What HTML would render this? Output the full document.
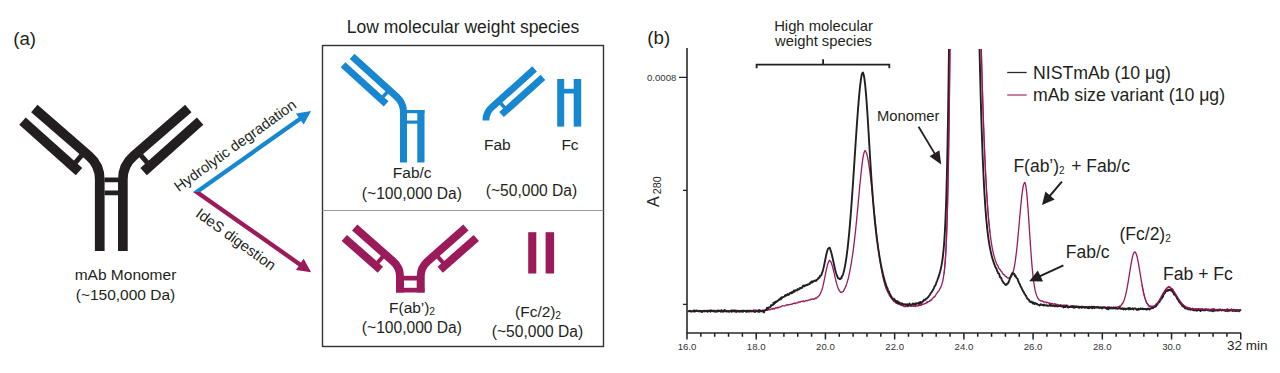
<!DOCTYPE html>
<html><head><meta charset="utf-8">
<style>
html,body{margin:0;padding:0;background:#fff;width:1280px;height:373px;overflow:hidden}
svg{position:absolute;left:0;top:0;display:block}
text{font-family:"Liberation Sans",sans-serif;fill:#231f20}
</style></head><body>
<svg width="1280" height="373" viewBox="0 0 1280 373">
<rect width="1280" height="373" fill="#fff"/>
<g stroke-linecap="butt">
<!-- (a) -->
<text x="13.2" y="44.5" font-size="18.7">(a)</text>
<path d="M34.30,108.50 L89.18,156.21 Q99.75,165.39 99.75,179.39 L99.75,251.00" stroke="#231f20" stroke-width="9.7" fill="none"/><path d="M22.49,121.02 L78.99,171.54" stroke="#231f20" stroke-width="9.7" fill="none"/><path d="M81.63,155.41 L75.44,162.53" stroke="#231f20" stroke-width="5" fill="none"/><path d="M188.30,108.50 L133.42,156.21 Q122.85,165.39 122.85,179.39 L122.85,251.00" stroke="#231f20" stroke-width="9.7" fill="none"/><path d="M200.11,121.02 L143.61,171.54" stroke="#231f20" stroke-width="9.7" fill="none"/><path d="M140.97,155.41 L147.16,162.53" stroke="#231f20" stroke-width="5" fill="none"/><path d="M104.5,179.9 L118.1,179.9 M104.5,192.9 L118.1,192.9" stroke="#231f20" stroke-width="4.7" fill="none"/>
<text x="125.5" y="280" font-size="15.5" text-anchor="middle">mAb Monomer</text>
<text x="125.5" y="299.5" font-size="15.5" text-anchor="middle">(~150,000 Da)</text>

<!-- arrows -->
<path d="M192.96,191.90 L299.39,266.70 L301.86,263.18 L200.44,191.90 Z" fill="#9a1a5a"/><path d="M311.1,272.3 L295.93,269.89 L303.69,258.84 Z" fill="#9a1a5a"/><path d="M192.97,191.90 L299.40,116.73 L301.89,120.24 L200.43,191.90 Z" fill="#1787cf"/><path d="M311.1,111.1 L303.72,124.57 L295.93,113.55 Z" fill="#1787cf"/>
<text x="0" y="0" font-size="14.7" transform="translate(178.7,192.2) rotate(-35.7)">Hydrolytic degradation</text>
<text x="0" y="0" font-size="14.9" transform="translate(194.8,215.7) rotate(36)">IdeS digestion</text>

<!-- box -->
<text x="463" y="33" font-size="17.5" text-anchor="middle">Low molecular weight species</text>
<rect x="322.5" y="45.5" width="281" height="301" fill="none" stroke="#333" stroke-width="1.4"/>
<line x1="322.5" y1="210.5" x2="603.5" y2="210.5" stroke="#999" stroke-width="1"/>
<path d="M352.10,56.40 L396.83,96.96 Q403.50,103.01 403.50,112.01 L403.50,162.50" stroke="#1787cf" stroke-width="7" fill="none"/><path d="M343.02,64.77 L386.14,103.87" stroke="#1787cf" stroke-width="7" fill="none"/><path d="M387.13,92.21 L382.89,96.88" stroke="#1787cf" stroke-width="3.5" fill="none"/><rect x="406" y="110" width="18.5" height="3.2" fill="#1787cf"/><rect x="406" y="120.5" width="12" height="3.2" fill="#1787cf"/><rect x="417.3" y="110" width="7.2" height="52.5" fill="#1787cf"/><path d="M534.60,68.90 L491.58,107.50 Q486.00,112.51 486.00,120.01 L486.00,120.40" stroke="#1787cf" stroke-width="6.9" fill="none"/><path d="M542.92,77.42 L501.54,114.55" stroke="#1787cf" stroke-width="6.9" fill="none"/><path d="M500.69,103.29 L504.70,107.75" stroke="#1787cf" stroke-width="3.5" fill="none"/><rect x="557.2" y="79" width="7" height="47.6" fill="#1787cf"/><rect x="573.7" y="79" width="7.5" height="47.6" fill="#1787cf"/><rect x="564" y="88.8" width="10" height="4.7" fill="#1787cf"/><path d="M354.70,227.50 L393.25,261.49 Q400.00,267.44 400.00,276.44 L400.00,292.50" stroke="#9a1a5a" stroke-width="8" fill="none"/><path d="M344.30,237.93 L380.38,269.74" stroke="#9a1a5a" stroke-width="8" fill="none"/><path d="M382.69,256.84 L377.60,262.62" stroke="#9a1a5a" stroke-width="4" fill="none"/><path d="M465.90,227.50 L427.45,261.40 Q420.70,267.35 420.70,276.35 L420.70,292.50" stroke="#9a1a5a" stroke-width="8" fill="none"/><path d="M476.30,237.93 L440.22,269.74" stroke="#9a1a5a" stroke-width="8" fill="none"/><path d="M437.91,256.84 L443.00,262.62" stroke="#9a1a5a" stroke-width="4" fill="none"/><rect x="403" y="275.8" width="14.5" height="4.7" fill="#9a1a5a"/><rect x="396" y="287.8" width="28.5" height="4.7" fill="#9a1a5a"/><rect x="528.2" y="232.2" width="8.1" height="41.3" fill="#9a1a5a"/><rect x="545.6" y="232.2" width="8.5" height="41.3" fill="#9a1a5a"/>
<text x="412.2" y="178.1" font-size="15.5" text-anchor="middle">Fab/c</text>
<text x="411.9" y="198.6" font-size="15.6" text-anchor="middle">(~100,000 Da)</text>
<text x="497.4" y="149.9" font-size="15.5" text-anchor="middle">Fab</text>
<text x="570" y="149.9" font-size="15.5" text-anchor="middle">Fc</text>
<text x="531.5" y="196.1" font-size="15.6" text-anchor="middle">(~50,000 Da)</text>
<text x="389" y="313" font-size="15.5">F(ab’)<tspan font-size="10.3" dy="1.5" dx="-0.2">2</tspan></text>
<text x="411.9" y="332.9" font-size="15.6" text-anchor="middle">(~100,000 Da)</text>
<text x="515" y="317.3" font-size="15.5">(Fc/2)<tspan font-size="10.3" dy="1.5" dx="-0.2">2</tspan></text>
<text x="537.5" y="336.9" font-size="15.6" text-anchor="middle">(~50,000 Da)</text>

<!-- (b) chart -->
<text x="647.3" y="44.3" font-size="18.7">(b)</text>
<text x="823.5" y="30.5" font-size="14.8" text-anchor="middle">High molecular</text>
<text x="823.5" y="45.5" font-size="14.8" text-anchor="middle">weight species</text>
<path d="M756.6,68.2 L756.6,64.7 L889.3,64.7 L889.3,68.2 M823.1,64.7 L823.1,59.3" stroke="#231f20" stroke-width="1.8" fill="none"/>
<text x="647" y="81" font-size="9.6" style="fill:#333">0.0008</text>
<text transform="translate(659,207) rotate(-90)" font-size="16">A<tspan font-size="10.8" dx="2.2" dy="1.7">280</tspan></text>
<path d="M687,48 L687,333 L1241,333" stroke="#2a2a2a" stroke-width="1.6" fill="none"/>
<path d="M679,77.3 L687,77.3 M683,190.4 L687,190.4 M683,304.3 L687,304.3" stroke="#231f20" stroke-width="1.3" fill="none"/>
<path d="M687.00,333 L687.00,339.5 M700.84,333 L700.84,336.8 M714.69,333 L714.69,336.8 M728.53,333 L728.53,336.8 M742.38,333 L742.38,336.8 M756.22,333 L756.22,339.5 M770.06,333 L770.06,336.8 M783.91,333 L783.91,336.8 M797.75,333 L797.75,336.8 M811.60,333 L811.60,336.8 M825.44,333 L825.44,339.5 M839.28,333 L839.28,336.8 M853.13,333 L853.13,336.8 M866.97,333 L866.97,336.8 M880.82,333 L880.82,336.8 M894.66,333 L894.66,339.5 M908.50,333 L908.50,336.8 M922.35,333 L922.35,336.8 M936.19,333 L936.19,336.8 M950.04,333 L950.04,336.8 M963.88,333 L963.88,339.5 M977.72,333 L977.72,336.8 M991.57,333 L991.57,336.8 M1005.41,333 L1005.41,336.8 M1019.26,333 L1019.26,336.8 M1033.10,333 L1033.10,339.5 M1046.94,333 L1046.94,336.8 M1060.79,333 L1060.79,336.8 M1074.63,333 L1074.63,336.8 M1088.48,333 L1088.48,336.8 M1102.32,333 L1102.32,339.5 M1116.16,333 L1116.16,336.8 M1130.01,333 L1130.01,336.8 M1143.85,333 L1143.85,336.8 M1157.70,333 L1157.70,336.8 M1171.54,333 L1171.54,339.5 M1185.38,333 L1185.38,336.8 M1199.23,333 L1199.23,336.8 M1213.07,333 L1213.07,336.8 M1226.92,333 L1226.92,336.8 M1240.76,333 L1240.76,339.5" stroke="#231f20" stroke-width="1.5" fill="none"/>
<text x="687.0" y="349.8" font-size="9.6" text-anchor="middle" style="fill:#333">16.0</text><text x="756.2" y="349.8" font-size="9.6" text-anchor="middle" style="fill:#333">18.0</text><text x="825.4" y="349.8" font-size="9.6" text-anchor="middle" style="fill:#333">20.0</text><text x="894.7" y="349.8" font-size="9.6" text-anchor="middle" style="fill:#333">22.0</text><text x="963.9" y="349.8" font-size="9.6" text-anchor="middle" style="fill:#333">24.0</text><text x="1033.1" y="349.8" font-size="9.6" text-anchor="middle" style="fill:#333">26.0</text><text x="1102.3" y="349.8" font-size="9.6" text-anchor="middle" style="fill:#333">28.0</text><text x="1171.5" y="349.8" font-size="9.6" text-anchor="middle" style="fill:#333">30.0</text>
<text x="1227" y="349.8" font-size="13.5">32 min</text>

<path d="M688.00,311.28 L688.50,311.49 L689.00,311.34 L689.50,311.36 L690.00,311.19 L690.50,311.60 L691.00,311.07 L691.50,311.02 L692.00,311.44 L692.50,311.19 L693.00,311.09 L693.50,310.99 L694.00,311.08 L694.50,311.34 L695.00,311.26 L695.50,310.78 L696.00,311.27 L696.50,311.19 L697.00,310.83 L697.50,311.36 L698.00,311.04 L698.50,311.01 L699.00,311.35 L699.50,311.50 L700.00,310.89 L700.50,311.23 L701.00,310.83 L701.50,311.78 L702.00,310.93 L702.50,311.44 L703.00,310.88 L703.50,311.31 L704.00,311.73 L704.50,310.29 L705.00,310.92 L705.50,311.20 L706.00,311.01 L706.50,310.84 L707.00,311.68 L707.50,311.05 L708.00,310.53 L708.50,311.27 L709.00,310.50 L709.50,311.35 L710.00,310.83 L710.50,311.04 L711.00,311.37 L711.50,311.02 L712.00,310.57 L712.50,310.47 L713.00,311.33 L713.50,311.19 L714.00,310.72 L714.50,311.22 L715.00,311.10 L715.50,311.14 L716.00,310.27 L716.50,310.85 L717.00,311.21 L717.50,311.15 L718.00,311.19 L718.50,310.18 L719.00,310.97 L719.50,311.06 L720.00,311.67 L720.50,310.62 L721.00,310.80 L721.50,310.90 L722.00,311.15 L722.50,310.75 L723.00,311.22 L723.50,310.64 L724.00,310.95 L724.50,310.70 L725.00,310.91 L725.50,310.65 L726.00,310.37 L726.50,311.17 L727.00,310.93 L727.50,310.67 L728.00,310.89 L728.50,311.12 L729.00,310.53 L729.50,310.78 L730.00,310.97 L730.50,310.96 L731.00,310.70 L731.50,310.16 L732.00,311.16 L732.50,310.88 L733.00,310.78 L733.50,310.69 L734.00,310.85 L734.50,310.64 L735.00,310.45 L735.50,310.53 L736.00,310.57 L736.50,310.56 L737.00,310.39 L737.50,310.93 L738.00,310.34 L738.50,310.93 L739.00,310.42 L739.50,310.82 L740.00,311.12 L740.50,310.77 L741.00,310.48 L741.50,310.71 L742.00,310.74 L742.50,310.17 L743.00,310.50 L743.50,310.73 L744.00,310.53 L744.50,310.69 L745.00,310.88 L745.50,310.89 L746.00,310.93 L746.50,310.83 L747.00,310.56 L747.50,310.63 L748.00,310.55 L748.50,310.54 L749.00,310.57 L749.50,310.10 L750.00,310.52 L750.50,310.60 L751.00,310.31 L751.50,310.59 L752.00,310.75 L752.50,310.54 L753.00,311.21 L753.50,309.80 L754.00,310.51 L754.50,310.02 L755.00,310.86 L755.50,311.36 L756.00,309.81 L756.50,310.59 L757.00,310.70 L757.50,310.45 L758.00,310.70 L758.50,309.86 L759.00,310.78 L759.50,310.64 L760.00,310.53 L760.50,310.34 L761.00,310.70 L761.50,310.36 L762.00,310.57 L762.50,310.34 L763.00,309.82 L763.50,310.48 L764.00,310.54 L764.50,310.62 L765.00,310.05 L765.50,310.21 L766.00,310.31 L766.50,310.08 L767.00,310.31 L767.50,310.44 L768.00,309.48 L768.50,309.08 L769.00,309.82 L769.50,309.93 L770.00,309.65 L770.50,309.53 L771.00,309.01 L771.50,308.88 L772.00,309.27 L772.50,308.60 L773.00,308.20 L773.50,308.32 L774.00,309.24 L774.50,308.94 L775.00,308.03 L775.50,307.89 L776.00,308.05 L776.50,307.62 L777.00,308.11 L777.50,307.57 L778.00,307.14 L778.50,307.73 L779.00,307.03 L779.50,307.14 L780.00,306.95 L780.50,306.73 L781.00,306.79 L781.50,306.36 L782.00,305.89 L782.50,305.66 L783.00,305.81 L783.50,305.84 L784.00,305.93 L784.50,305.83 L785.00,305.85 L785.50,305.60 L786.00,305.20 L786.50,305.10 L787.00,304.55 L787.50,305.01 L788.00,305.08 L788.50,304.96 L789.00,304.64 L789.50,304.50 L790.00,304.71 L790.50,304.30 L791.00,304.39 L791.50,304.22 L792.00,303.98 L792.50,304.19 L793.00,303.50 L793.50,303.43 L794.00,303.17 L794.50,303.05 L795.00,303.63 L795.50,303.56 L796.00,302.92 L796.50,302.95 L797.00,303.01 L797.50,302.77 L798.00,302.77 L798.50,301.90 L799.00,301.96 L799.50,302.16 L800.00,302.33 L800.50,301.82 L801.00,301.42 L801.50,301.46 L802.00,301.26 L802.50,301.09 L803.00,301.69 L803.50,300.94 L804.00,301.03 L804.50,301.56 L805.00,301.16 L805.50,300.79 L806.00,300.40 L806.50,300.60 L807.00,300.85 L807.50,300.44 L808.00,300.52 L808.50,300.06 L809.00,300.08 L809.50,299.75 L810.00,299.83 L810.50,299.98 L811.00,299.05 L811.50,299.35 L812.00,299.33 L812.50,298.97 L813.00,298.93 L813.50,299.13 L814.00,299.37 L814.50,298.82 L815.00,298.57 L815.50,297.84 L816.00,298.69 L816.50,297.90 L817.00,297.60 L817.50,296.95 L818.00,296.88 L818.50,296.09 L819.00,295.86 L819.50,295.28 L820.00,294.31 L820.50,293.46 L821.00,292.02 L821.50,290.97 L822.00,289.47 L822.50,287.75 L823.00,285.82 L823.50,283.70 L824.00,281.41 L824.50,278.98 L825.00,276.47 L825.50,273.93 L826.00,271.43 L826.50,269.03 L827.00,266.82 L827.50,264.86 L828.00,263.23 L828.50,262.41 L829.00,260.97 L829.50,260.26 L830.00,260.82 L830.50,261.18 L831.00,261.97 L831.50,263.45 L832.00,264.92 L832.50,266.62 L833.00,268.52 L833.50,270.57 L834.00,272.71 L834.50,274.89 L835.00,277.07 L835.50,279.19 L836.00,281.23 L836.50,283.14 L837.00,284.91 L837.50,286.50 L838.00,287.90 L838.50,289.00 L839.00,290.21 L839.50,290.57 L840.00,291.49 L840.50,292.39 L841.00,292.41 L841.50,292.22 L842.00,292.20 L842.50,291.85 L843.00,291.45 L843.50,291.10 L844.00,290.13 L844.50,288.57 L845.00,288.28 L845.50,286.87 L846.00,285.85 L846.50,284.42 L847.00,282.86 L847.50,281.15 L848.00,279.30 L848.50,277.30 L849.00,275.15 L849.50,272.84 L850.00,270.37 L850.50,267.73 L851.00,264.92 L851.50,261.94 L852.00,258.76 L852.50,255.39 L853.00,251.82 L853.50,248.05 L854.00,244.06 L854.50,239.86 L855.00,235.45 L855.50,230.81 L856.00,225.98 L856.50,220.96 L857.00,215.79 L857.50,210.48 L858.00,205.09 L858.50,199.66 L859.00,194.24 L859.50,188.91 L860.00,183.72 L860.50,178.69 L861.00,173.81 L861.50,169.17 L862.00,164.86 L862.50,160.98 L863.00,157.60 L863.50,154.82 L864.00,152.71 L864.50,151.51 L865.00,150.50 L865.50,150.90 L866.00,152.39 L866.50,153.05 L867.00,154.78 L867.50,156.91 L868.00,159.43 L868.50,162.31 L869.00,165.53 L869.50,169.07 L870.00,172.90 L870.50,176.98 L871.00,181.28 L871.50,185.76 L872.00,190.40 L872.50,195.15 L873.00,199.98 L873.50,204.87 L874.00,209.76 L874.50,214.64 L875.00,219.48 L875.50,224.25 L876.00,228.92 L876.50,233.47 L877.00,237.90 L877.50,242.17 L878.00,246.28 L878.50,250.22 L879.00,253.97 L879.50,257.55 L880.00,260.93 L880.50,264.14 L881.00,267.16 L881.50,269.99 L882.00,272.64 L882.50,275.12 L883.00,277.43 L883.50,279.58 L884.00,281.58 L884.50,283.43 L885.00,285.15 L885.50,286.74 L886.00,288.21 L886.50,289.56 L887.00,290.50 L887.50,291.64 L888.00,292.62 L888.50,293.32 L889.00,294.39 L889.50,295.91 L890.00,296.39 L890.50,296.75 L891.00,297.54 L891.50,298.79 L892.00,298.95 L892.50,299.62 L893.00,300.33 L893.50,301.11 L894.00,301.72 L894.50,301.86 L895.00,301.97 L895.50,302.34 L896.00,303.16 L896.50,303.36 L897.00,303.14 L897.50,303.64 L898.00,303.85 L898.50,304.02 L899.00,304.09 L899.50,304.05 L900.00,304.49 L900.50,304.38 L901.00,305.39 L901.50,305.35 L902.00,304.99 L902.50,305.92 L903.00,305.91 L903.50,305.21 L904.00,306.46 L904.50,306.27 L905.00,306.76 L905.50,305.81 L906.00,306.37 L906.50,306.37 L907.00,306.33 L907.50,306.34 L908.00,306.62 L908.50,305.86 L909.00,305.94 L909.50,305.90 L910.00,306.14 L910.50,306.12 L911.00,306.40 L911.50,306.35 L912.00,306.26 L912.50,306.02 L913.00,306.06 L913.50,306.45 L914.00,306.35 L914.50,306.11 L915.00,305.93 L915.50,306.44 L916.00,305.74 L916.50,306.04 L917.00,306.12 L917.50,305.62 L918.00,305.87 L918.50,305.19 L919.00,305.74 L919.50,305.39 L920.00,304.74 L920.50,305.30 L921.00,304.70 L921.50,305.21 L922.00,304.48 L922.50,304.47 L923.00,304.44 L923.50,304.08 L924.00,304.06 L924.50,303.62 L925.00,303.77 L925.50,303.34 L926.00,303.17 L926.50,302.02 L927.00,302.93 L927.50,302.30 L928.00,301.46 L928.50,301.71 L929.00,301.49 L929.50,301.32 L930.00,300.31 L930.50,300.71 L931.00,299.79 L931.50,300.14 L932.00,298.93 L932.50,298.72 L933.00,297.92 L933.50,297.19 L934.00,297.33 L934.50,296.73 L935.00,296.35 L935.50,295.56 L936.00,294.52 L936.50,293.55 L937.00,293.19 L937.50,292.49 L938.00,291.73 L938.50,291.39 L939.00,290.52 L939.50,289.48 L940.00,288.70 L940.50,287.60 L941.00,286.58 L941.50,285.24 L942.00,283.74 L942.50,281.97 L943.00,279.80 L943.50,277.12 L944.00,273.76 L944.50,269.52 L945.00,264.12 L945.50,257.26 L946.00,248.56 L946.50,237.56 L947.00,223.76 L947.50,206.59 L948.00,185.40 L948.50,159.54 L949.00,128.30 L949.50,91.02 L949.98,48.90 M981.30,48.90 L981.50,56.75 L982.00,75.29 L982.50,92.51 L983.00,108.48 L983.50,123.24 L984.00,136.87 L984.50,149.41 L985.00,160.93 L985.50,171.49 L986.00,181.15 L986.50,189.97 L987.00,198.00 L987.50,205.31 L988.00,211.95 L988.50,217.97 L989.00,223.42 L989.50,228.35 L990.00,232.80 L990.50,236.82 L991.00,240.45 L991.50,243.72 L992.00,246.67 L992.50,249.33 L993.00,251.74 L993.50,253.91 L994.00,255.87 L994.50,257.65 L995.00,259.27 L995.50,260.74 L996.00,262.08 L996.50,263.54 L997.00,264.73 L997.50,265.29 L998.00,266.01 L998.50,267.79 L999.00,268.25 L999.50,269.34 L1000.00,269.27 L1000.50,270.38 L1001.00,271.16 L1001.50,271.37 L1002.00,272.28 L1002.50,273.25 L1003.00,273.93 L1003.50,274.65 L1004.00,274.45 L1004.50,274.80 L1005.00,275.87 L1005.50,276.46 L1006.00,276.67 L1006.50,276.62 L1007.00,277.60 L1007.50,277.91 L1008.00,278.08 L1008.50,277.93 L1009.00,278.23 L1009.50,278.34 L1010.00,277.75 L1010.50,277.04 L1011.00,277.17 L1011.50,276.49 L1012.00,275.39 L1012.50,274.14 L1013.00,272.61 L1013.50,270.74 L1014.00,268.51 L1014.50,265.90 L1015.00,262.90 L1015.50,259.49 L1016.00,255.68 L1016.50,251.46 L1017.00,246.88 L1017.50,241.95 L1018.00,236.74 L1018.50,231.30 L1019.00,225.70 L1019.50,220.04 L1020.00,214.41 L1020.50,208.92 L1021.00,203.67 L1021.50,198.79 L1022.00,194.38 L1022.50,190.54 L1023.00,187.38 L1023.50,184.96 L1024.00,183.64 L1024.50,182.47 L1025.00,182.81 L1025.50,184.25 L1026.00,186.97 L1026.50,190.90 L1027.00,195.91 L1027.50,201.84 L1028.00,208.50 L1028.50,215.70 L1029.00,223.24 L1029.50,230.90 L1030.00,238.51 L1030.50,245.91 L1031.00,252.95 L1031.50,259.53 L1032.00,265.58 L1032.50,271.05 L1033.00,275.91 L1033.50,280.17 L1034.00,283.85 L1034.50,286.99 L1035.00,289.64 L1035.50,291.84 L1036.00,293.66 L1036.50,295.14 L1037.00,296.26 L1037.50,297.50 L1038.00,298.59 L1038.50,298.67 L1039.00,299.88 L1039.50,300.15 L1040.00,300.28 L1040.50,300.53 L1041.00,301.15 L1041.50,300.80 L1042.00,301.04 L1042.50,300.95 L1043.00,301.59 L1043.50,302.02 L1044.00,301.94 L1044.50,302.07 L1045.00,302.03 L1045.50,302.29 L1046.00,301.95 L1046.50,302.83 L1047.00,302.53 L1047.50,302.45 L1048.00,302.68 L1048.50,302.78 L1049.00,303.40 L1049.50,303.58 L1050.00,302.97 L1050.50,303.77 L1051.00,303.86 L1051.50,303.53 L1052.00,303.35 L1052.50,303.68 L1053.00,303.80 L1053.50,304.19 L1054.00,304.07 L1054.50,303.66 L1055.00,304.42 L1055.50,303.98 L1056.00,304.79 L1056.50,304.23 L1057.00,304.46 L1057.50,304.49 L1058.00,304.65 L1058.50,305.28 L1059.00,305.21 L1059.50,305.20 L1060.00,305.18 L1060.50,304.68 L1061.00,305.05 L1061.50,305.10 L1062.00,305.03 L1062.50,305.53 L1063.00,305.21 L1063.50,305.27 L1064.00,305.22 L1064.50,304.96 L1065.00,305.81 L1065.50,306.07 L1066.00,305.77 L1066.50,305.47 L1067.00,304.99 L1067.50,305.90 L1068.00,306.25 L1068.50,306.01 L1069.00,306.24 L1069.50,306.44 L1070.00,306.37 L1070.50,305.93 L1071.00,306.42 L1071.50,306.37 L1072.00,305.70 L1072.50,306.07 L1073.00,305.80 L1073.50,306.22 L1074.00,306.45 L1074.50,305.99 L1075.00,305.72 L1075.50,306.75 L1076.00,306.50 L1076.50,306.85 L1077.00,306.04 L1077.50,306.77 L1078.00,307.10 L1078.50,307.10 L1079.00,306.46 L1079.50,306.62 L1080.00,306.52 L1080.50,306.88 L1081.00,306.91 L1081.50,306.65 L1082.00,306.23 L1082.50,306.88 L1083.00,306.53 L1083.50,306.88 L1084.00,306.79 L1084.50,307.21 L1085.00,307.08 L1085.50,306.62 L1086.00,306.88 L1086.50,307.32 L1087.00,306.64 L1087.50,306.95 L1088.00,307.19 L1088.50,307.22 L1089.00,307.02 L1089.50,306.48 L1090.00,306.51 L1090.50,306.97 L1091.00,307.03 L1091.50,307.69 L1092.00,306.68 L1092.50,307.29 L1093.00,307.19 L1093.50,306.47 L1094.00,306.74 L1094.50,307.05 L1095.00,306.86 L1095.50,306.98 L1096.00,307.17 L1096.50,306.80 L1097.00,307.20 L1097.50,306.88 L1098.00,306.91 L1098.50,307.25 L1099.00,306.93 L1099.50,307.20 L1100.00,307.60 L1100.50,307.14 L1101.00,307.10 L1101.50,307.37 L1102.00,307.05 L1102.50,307.50 L1103.00,306.80 L1103.50,307.38 L1104.00,307.05 L1104.50,306.97 L1105.00,307.75 L1105.50,306.98 L1106.00,307.77 L1106.50,307.45 L1107.00,307.69 L1107.50,306.98 L1108.00,307.64 L1108.50,307.72 L1109.00,307.26 L1109.50,307.27 L1110.00,308.05 L1110.50,307.38 L1111.00,307.21 L1111.50,307.15 L1112.00,307.48 L1112.50,307.45 L1113.00,307.41 L1113.50,307.88 L1114.00,307.27 L1114.50,307.50 L1115.00,307.79 L1115.50,307.04 L1116.00,307.63 L1116.50,307.84 L1117.00,306.84 L1117.50,306.85 L1118.00,306.78 L1118.50,306.42 L1119.00,306.95 L1119.50,306.05 L1120.00,306.50 L1120.50,306.46 L1121.00,305.12 L1121.50,305.00 L1122.00,303.89 L1122.50,303.95 L1123.00,302.58 L1123.50,301.65 L1124.00,300.48 L1124.50,299.03 L1125.00,297.36 L1125.50,295.48 L1126.00,293.38 L1126.50,291.06 L1127.00,288.53 L1127.50,285.81 L1128.00,282.91 L1128.50,279.88 L1129.00,276.75 L1129.50,273.57 L1130.00,270.39 L1130.50,267.28 L1131.00,264.30 L1131.50,261.52 L1132.00,258.99 L1132.50,256.77 L1133.00,254.93 L1133.50,253.52 L1134.00,252.70 L1134.50,251.94 L1135.00,252.05 L1135.50,252.36 L1136.00,253.47 L1136.50,254.79 L1137.00,256.53 L1137.50,258.63 L1138.00,261.04 L1138.50,263.70 L1139.00,266.55 L1139.50,269.55 L1140.00,272.62 L1140.50,275.71 L1141.00,278.78 L1141.50,281.78 L1142.00,284.67 L1142.50,287.40 L1143.00,289.97 L1143.50,292.35 L1144.00,294.53 L1144.50,296.49 L1145.00,298.25 L1145.50,299.81 L1146.00,301.16 L1146.50,301.98 L1147.00,303.35 L1147.50,303.60 L1148.00,304.72 L1148.50,306.01 L1149.00,305.91 L1149.50,305.85 L1150.00,306.56 L1150.50,306.36 L1151.00,306.25 L1151.50,306.56 L1152.00,306.97 L1152.50,306.78 L1153.00,306.50 L1153.50,306.06 L1154.00,305.77 L1154.50,306.20 L1155.00,305.53 L1155.50,304.78 L1156.00,303.98 L1156.50,303.71 L1157.00,304.31 L1157.50,302.63 L1158.00,302.30 L1158.50,301.68 L1159.00,300.82 L1159.50,300.00 L1160.00,298.84 L1160.50,298.07 L1161.00,298.00 L1161.50,296.36 L1162.00,295.91 L1162.50,294.23 L1163.00,293.74 L1163.50,293.00 L1164.00,292.37 L1164.50,290.89 L1165.00,290.63 L1165.50,289.86 L1166.00,288.88 L1166.50,288.69 L1167.00,287.81 L1167.50,287.47 L1168.00,287.44 L1168.50,286.48 L1169.00,287.22 L1169.50,287.01 L1170.00,287.02 L1170.50,287.57 L1171.00,288.25 L1171.50,288.30 L1172.00,289.29 L1172.50,289.12 L1173.00,289.70 L1173.50,291.24 L1174.00,291.62 L1174.50,292.56 L1175.00,292.84 L1175.50,294.16 L1176.00,294.85 L1176.50,295.82 L1177.00,296.50 L1177.50,297.70 L1178.00,297.99 L1178.50,298.72 L1179.00,299.37 L1179.50,300.93 L1180.00,301.10 L1180.50,301.71 L1181.00,302.41 L1181.50,303.19 L1182.00,303.53 L1182.50,304.37 L1183.00,304.77 L1183.50,305.26 L1184.00,305.56 L1184.50,306.24 L1185.00,306.45 L1185.50,306.93 L1186.00,307.26 L1186.50,307.54 L1187.00,307.00 L1187.50,307.70 L1188.00,307.80 L1188.50,308.42 L1189.00,307.85 L1189.50,308.23 L1190.00,308.46 L1190.50,308.54 L1191.00,309.01 L1191.50,308.65 L1192.00,309.13 L1192.50,308.45 L1193.00,308.40 L1193.50,309.34 L1194.00,309.14 L1194.50,309.19 L1195.00,309.10 L1195.50,309.24 L1196.00,308.75 L1196.50,309.42 L1197.00,308.99 L1197.50,309.46 L1198.00,309.21 L1198.50,308.60 L1199.00,308.82 L1199.50,309.56 L1200.00,309.19 L1200.50,309.13 L1201.00,309.33 L1201.50,309.14 L1202.00,309.12 L1202.50,309.33 L1203.00,309.35 L1203.50,309.77 L1204.00,309.34 L1204.50,309.90 L1205.00,309.89 L1205.50,309.88 L1206.00,309.69 L1206.50,309.43 L1207.00,309.44 L1207.50,309.37 L1208.00,309.20 L1208.50,309.41 L1209.00,309.25 L1209.50,309.95 L1210.00,309.62 L1210.50,309.34 L1211.00,308.91 L1211.50,309.48 L1212.00,309.38 L1212.50,309.19 L1213.00,309.19 L1213.50,308.87 L1214.00,309.72 L1214.50,309.55 L1215.00,310.35 L1215.50,309.58 L1216.00,309.55 L1216.50,310.04 L1217.00,309.66 L1217.50,309.68 L1218.00,309.53 L1218.50,309.47 L1219.00,310.12 L1219.50,309.98 L1220.00,310.20 L1220.50,309.59 L1221.00,309.72 L1221.50,309.46 L1222.00,310.02 L1222.50,309.33 L1223.00,309.92 L1223.50,310.09 L1224.00,310.20 L1224.50,309.51 L1225.00,310.13 L1225.50,309.60 L1226.00,309.59 L1226.50,309.44 L1227.00,310.19 L1227.50,310.35 L1228.00,309.69 L1228.50,309.65 L1229.00,309.79 L1229.50,310.65 L1230.00,310.21 L1230.50,309.76 L1231.00,309.39 L1231.50,309.74 L1232.00,310.31 L1232.50,310.53 L1233.00,309.90 L1233.50,309.78 L1234.00,309.85 L1234.50,309.45 L1235.00,310.30 L1235.50,309.71 L1236.00,310.36 L1236.50,309.54 L1237.00,309.69 L1237.50,310.16 L1238.00,309.86 L1238.50,310.34 L1239.00,310.11 L1239.50,309.77 L1240.00,310.32 L1240.50,310.40 L1241.00,309.58" stroke="#9a1a5a" stroke-width="1.3" fill="none" stroke-linejoin="round"/>
<path d="M688.00,310.99 L688.50,311.33 L689.00,311.00 L689.50,310.96 L690.00,310.69 L690.50,311.01 L691.00,311.61 L691.50,311.30 L692.00,311.58 L692.50,311.22 L693.00,311.29 L693.50,311.19 L694.00,310.36 L694.50,311.50 L695.00,311.34 L695.50,311.34 L696.00,310.35 L696.50,310.33 L697.00,310.72 L697.50,310.91 L698.00,311.26 L698.50,311.10 L699.00,311.35 L699.50,310.83 L700.00,311.26 L700.50,311.30 L701.00,310.82 L701.50,311.90 L702.00,311.37 L702.50,311.66 L703.00,310.85 L703.50,310.79 L704.00,310.97 L704.50,311.08 L705.00,311.41 L705.50,311.24 L706.00,310.93 L706.50,310.70 L707.00,310.90 L707.50,311.68 L708.00,310.77 L708.50,311.24 L709.00,311.33 L709.50,310.46 L710.00,311.16 L710.50,311.72 L711.00,310.23 L711.50,310.99 L712.00,311.09 L712.50,310.77 L713.00,311.36 L713.50,311.11 L714.00,310.48 L714.50,311.51 L715.00,311.44 L715.50,311.57 L716.00,311.79 L716.50,311.31 L717.00,311.20 L717.50,310.56 L718.00,311.42 L718.50,310.87 L719.00,310.94 L719.50,310.58 L720.00,310.71 L720.50,310.91 L721.00,311.73 L721.50,310.24 L722.00,310.50 L722.50,311.26 L723.00,311.80 L723.50,311.42 L724.00,310.30 L724.50,310.02 L725.00,311.32 L725.50,310.83 L726.00,310.65 L726.50,311.60 L727.00,311.66 L727.50,311.23 L728.00,311.27 L728.50,311.36 L729.00,311.88 L729.50,311.44 L730.00,311.40 L730.50,311.41 L731.00,310.46 L731.50,311.74 L732.00,311.60 L732.50,311.41 L733.00,310.28 L733.50,310.88 L734.00,311.55 L734.50,310.36 L735.00,311.09 L735.50,311.63 L736.00,310.58 L736.50,311.90 L737.00,311.42 L737.50,311.11 L738.00,311.32 L738.50,311.47 L739.00,311.23 L739.50,311.69 L740.00,310.88 L740.50,310.99 L741.00,311.65 L741.50,311.19 L742.00,310.79 L742.50,311.61 L743.00,311.84 L743.50,310.98 L744.00,310.56 L744.50,311.13 L745.00,311.12 L745.50,311.05 L746.00,311.82 L746.50,310.73 L747.00,311.76 L747.50,310.62 L748.00,310.84 L748.50,311.48 L749.00,311.70 L749.50,311.58 L750.00,311.35 L750.50,311.26 L751.00,311.26 L751.50,311.45 L752.00,311.12 L752.50,311.32 L753.00,311.46 L753.50,311.20 L754.00,311.54 L754.50,311.45 L755.00,312.11 L755.50,311.35 L756.00,311.01 L756.50,311.04 L757.00,311.20 L757.50,311.62 L758.00,311.05 L758.50,311.38 L759.00,312.03 L759.50,310.05 L760.00,310.70 L760.50,311.32 L761.00,311.39 L761.50,311.32 L762.00,311.02 L762.50,311.51 L763.00,311.34 L763.50,310.98 L764.00,312.31 L764.50,311.02 L765.00,310.26 L765.50,310.09 L766.00,309.66 L766.50,309.36 L767.00,307.78 L767.50,308.41 L768.00,308.71 L768.50,307.35 L769.00,307.47 L769.50,307.56 L770.00,307.14 L770.50,307.05 L771.00,305.23 L771.50,305.47 L772.00,305.09 L772.50,305.12 L773.00,304.91 L773.50,302.80 L774.00,304.09 L774.50,302.53 L775.00,303.08 L775.50,301.68 L776.00,302.02 L776.50,302.07 L777.00,301.05 L777.50,300.79 L778.00,300.65 L778.50,299.94 L779.00,299.42 L779.50,299.74 L780.00,299.11 L780.50,298.24 L781.00,299.35 L781.50,297.34 L782.00,298.01 L782.50,297.22 L783.00,297.14 L783.50,297.13 L784.00,296.66 L784.50,296.58 L785.00,295.35 L785.50,295.10 L786.00,295.79 L786.50,294.82 L787.00,294.54 L787.50,294.08 L788.00,295.05 L788.50,294.55 L789.00,294.62 L789.50,293.28 L790.00,293.44 L790.50,292.66 L791.00,293.26 L791.50,293.37 L792.00,292.00 L792.50,292.84 L793.00,292.32 L793.50,291.54 L794.00,290.47 L794.50,291.73 L795.00,290.79 L795.50,290.31 L796.00,290.50 L796.50,290.24 L797.00,290.47 L797.50,289.08 L798.00,289.79 L798.50,289.69 L799.00,289.41 L799.50,288.42 L800.00,287.90 L800.50,288.45 L801.00,287.79 L801.50,287.55 L802.00,287.88 L802.50,286.87 L803.00,285.71 L803.50,286.32 L804.00,285.41 L804.50,286.36 L805.00,285.89 L805.50,285.22 L806.00,285.24 L806.50,285.37 L807.00,284.78 L807.50,285.10 L808.00,284.22 L808.50,284.47 L809.00,284.42 L809.50,284.23 L810.00,282.95 L810.50,283.40 L811.00,281.91 L811.50,282.02 L812.00,281.37 L812.50,282.48 L813.00,281.20 L813.50,281.49 L814.00,281.16 L814.50,280.98 L815.00,280.46 L815.50,280.57 L816.00,280.99 L816.50,279.91 L817.00,279.81 L817.50,279.67 L818.00,278.74 L818.50,277.81 L819.00,277.59 L819.50,277.69 L820.00,275.71 L820.50,275.64 L821.00,275.63 L821.50,274.60 L822.00,273.07 L822.50,271.64 L823.00,269.95 L823.50,268.02 L824.00,265.85 L824.50,263.50 L825.00,261.03 L825.50,258.51 L826.00,256.05 L826.50,253.74 L827.00,251.69 L827.50,250.00 L828.00,248.76 L828.50,248.41 L829.00,247.97 L829.50,247.68 L830.00,248.21 L830.50,250.10 L831.00,251.60 L831.50,253.39 L832.00,255.40 L832.50,257.57 L833.00,259.86 L833.50,262.19 L834.00,264.50 L834.50,266.76 L835.00,268.90 L835.50,270.90 L836.00,272.72 L836.50,274.33 L837.00,275.73 L837.50,276.61 L838.00,278.26 L838.50,278.29 L839.00,278.61 L839.50,278.92 L840.00,278.59 L840.50,278.97 L841.00,278.02 L841.50,278.01 L842.00,275.85 L842.50,275.75 L843.00,274.35 L843.50,272.69 L844.00,270.78 L844.50,268.59 L845.00,266.12 L845.50,263.35 L846.00,260.27 L846.50,256.86 L847.00,253.13 L847.50,249.05 L848.00,244.63 L848.50,239.87 L849.00,234.76 L849.50,229.31 L850.00,223.52 L850.50,217.42 L851.00,211.03 L851.50,204.35 L852.00,197.43 L852.50,190.29 L853.00,182.96 L853.50,175.50 L854.00,167.93 L854.50,160.31 L855.00,152.69 L855.50,145.04 L856.00,137.49 L856.50,130.09 L857.00,122.90 L857.50,115.96 L858.00,109.34 L858.50,103.09 L859.00,97.25 L859.50,91.87 L860.00,86.99 L860.50,82.67 L861.00,78.93 L861.50,75.85 L862.00,73.77 L862.50,72.92 L863.00,72.58 L863.50,74.03 L864.00,76.21 L864.50,79.38 L865.00,83.47 L865.50,88.40 L866.00,94.10 L866.50,100.48 L867.00,107.46 L867.50,114.94 L868.00,122.82 L868.50,131.03 L869.00,139.48 L869.50,147.96 L870.00,156.27 L870.50,164.36 L871.00,172.18 L871.50,179.69 L872.00,186.86 L872.50,193.67 L873.00,200.12 L873.50,206.22 L874.00,211.95 L874.50,217.35 L875.00,222.42 L875.50,227.18 L876.00,231.66 L876.50,235.87 L877.00,239.83 L877.50,243.57 L878.00,247.11 L878.50,250.45 L879.00,253.63 L879.50,256.64 L880.00,259.51 L880.50,262.24 L881.00,264.85 L881.50,267.33 L882.00,269.70 L882.50,271.96 L883.00,274.11 L883.50,276.15 L884.00,278.09 L884.50,279.94 L885.00,281.68 L885.50,283.33 L886.00,284.89 L886.50,286.35 L887.00,287.73 L887.50,288.14 L888.00,290.55 L888.50,291.23 L889.00,291.40 L889.50,292.98 L890.00,294.41 L890.50,294.92 L891.00,296.25 L891.50,296.95 L892.00,297.58 L892.50,298.04 L893.00,299.05 L893.50,299.27 L894.00,299.65 L894.50,298.95 L895.00,300.70 L895.50,301.26 L896.00,300.88 L896.50,301.12 L897.00,302.50 L897.50,301.11 L898.00,302.37 L898.50,303.49 L899.00,302.21 L899.50,303.15 L900.00,303.89 L900.50,303.17 L901.00,303.66 L901.50,303.99 L902.00,303.34 L902.50,303.86 L903.00,304.19 L903.50,304.57 L904.00,304.33 L904.50,304.39 L905.00,304.16 L905.50,304.46 L906.00,305.02 L906.50,304.66 L907.00,304.22 L907.50,304.22 L908.00,305.78 L908.50,305.08 L909.00,304.83 L909.50,303.36 L910.00,304.77 L910.50,304.68 L911.00,305.19 L911.50,304.58 L912.00,304.32 L912.50,304.54 L913.00,303.37 L913.50,304.65 L914.00,304.27 L914.50,303.74 L915.00,304.57 L915.50,304.70 L916.00,303.17 L916.50,303.39 L917.00,303.71 L917.50,303.54 L918.00,303.15 L918.50,302.75 L919.00,303.99 L919.50,303.33 L920.00,302.14 L920.50,301.88 L921.00,303.04 L921.50,302.49 L922.00,302.62 L922.50,301.90 L923.00,300.86 L923.50,301.06 L924.00,299.65 L924.50,299.93 L925.00,299.87 L925.50,299.74 L926.00,298.75 L926.50,298.57 L927.00,298.36 L927.50,297.81 L928.00,297.39 L928.50,296.63 L929.00,295.79 L929.50,295.65 L930.00,294.65 L930.50,293.55 L931.00,292.90 L931.50,292.40 L932.00,291.53 L932.50,290.79 L933.00,289.82 L933.50,288.96 L934.00,287.84 L934.50,286.31 L935.00,286.00 L935.50,285.17 L936.00,283.73 L936.50,282.24 L937.00,281.07 L937.50,279.75 L938.00,278.37 L938.50,276.92 L939.00,275.38 L939.50,273.74 L940.00,271.96 L940.50,270.01 L941.00,267.85 L941.50,265.40 L942.00,262.59 L942.50,259.30 L943.00,255.39 L943.50,250.69 L944.00,244.97 L944.50,237.99 L945.00,229.41 L945.50,218.87 L946.00,205.92 L946.50,190.09 L947.00,170.82 L947.50,147.52 L948.00,119.56 L948.50,86.29 L948.98,48.90 M979.54,48.90 L980.00,68.72 L980.50,88.67 L981.00,106.86 L981.50,123.40 L982.00,138.41 L982.50,151.99 L983.00,164.24 L983.50,175.29 L984.00,185.22 L984.50,194.14 L985.00,202.14 L985.50,209.30 L986.00,215.72 L986.50,221.47 L987.00,226.61 L987.50,231.22 L988.00,235.35 L988.50,239.07 L989.00,242.41 L989.50,245.43 L990.00,248.16 L990.50,250.65 L991.00,252.91 L991.50,254.99 L992.00,256.91 L992.50,258.68 L993.00,260.33 L993.50,261.87 L994.00,263.32 L994.50,264.69 L995.00,266.00 L995.50,267.44 L996.00,267.99 L996.50,268.71 L997.00,270.69 L997.50,271.31 L998.00,273.09 L998.50,273.27 L999.00,273.55 L999.50,275.21 L1000.00,277.30 L1000.50,277.32 L1001.00,277.75 L1001.50,278.87 L1002.00,280.26 L1002.50,281.04 L1003.00,281.64 L1003.50,282.93 L1004.00,283.22 L1004.50,283.45 L1005.00,284.18 L1005.50,284.99 L1006.00,284.87 L1006.50,284.89 L1007.00,283.73 L1007.50,283.72 L1008.00,283.44 L1008.50,282.06 L1009.00,281.54 L1009.50,279.76 L1010.00,278.34 L1010.50,276.90 L1011.00,275.54 L1011.50,274.62 L1012.00,273.86 L1012.50,272.83 L1013.00,273.99 L1013.50,273.78 L1014.00,273.64 L1014.50,274.38 L1015.00,276.17 L1015.50,275.59 L1016.00,276.94 L1016.50,277.84 L1017.00,278.32 L1017.50,278.76 L1018.00,280.38 L1018.50,281.49 L1019.00,282.91 L1019.50,283.84 L1020.00,284.60 L1020.50,286.08 L1021.00,287.05 L1021.50,287.99 L1022.00,289.00 L1022.50,289.93 L1023.00,291.38 L1023.50,291.59 L1024.00,292.75 L1024.50,293.96 L1025.00,294.18 L1025.50,295.48 L1026.00,295.57 L1026.50,296.91 L1027.00,298.18 L1027.50,298.83 L1028.00,299.16 L1028.50,299.64 L1029.00,299.63 L1029.50,301.56 L1030.00,301.41 L1030.50,302.07 L1031.00,301.55 L1031.50,302.19 L1032.00,301.76 L1032.50,303.20 L1033.00,303.52 L1033.50,302.46 L1034.00,303.49 L1034.50,303.98 L1035.00,303.07 L1035.50,303.19 L1036.00,303.66 L1036.50,303.98 L1037.00,303.74 L1037.50,304.48 L1038.00,304.66 L1038.50,304.92 L1039.00,305.02 L1039.50,305.45 L1040.00,305.36 L1040.50,304.31 L1041.00,304.74 L1041.50,304.56 L1042.00,304.61 L1042.50,305.11 L1043.00,305.20 L1043.50,305.47 L1044.00,304.58 L1044.50,304.79 L1045.00,305.38 L1045.50,305.34 L1046.00,305.33 L1046.50,305.48 L1047.00,305.21 L1047.50,305.90 L1048.00,305.78 L1048.50,305.61 L1049.00,305.38 L1049.50,305.64 L1050.00,304.52 L1050.50,305.34 L1051.00,305.83 L1051.50,305.16 L1052.00,305.96 L1052.50,305.96 L1053.00,305.30 L1053.50,305.83 L1054.00,305.83 L1054.50,306.20 L1055.00,306.30 L1055.50,306.03 L1056.00,305.69 L1056.50,306.03 L1057.00,306.09 L1057.50,306.47 L1058.00,306.30 L1058.50,305.86 L1059.00,305.60 L1059.50,306.06 L1060.00,305.92 L1060.50,305.77 L1061.00,306.24 L1061.50,306.09 L1062.00,306.38 L1062.50,306.59 L1063.00,306.19 L1063.50,307.44 L1064.00,306.27 L1064.50,306.93 L1065.00,306.51 L1065.50,306.98 L1066.00,305.42 L1066.50,306.18 L1067.00,306.64 L1067.50,306.82 L1068.00,307.62 L1068.50,306.74 L1069.00,307.19 L1069.50,306.97 L1070.00,307.07 L1070.50,306.90 L1071.00,306.61 L1071.50,306.93 L1072.00,306.24 L1072.50,307.27 L1073.00,306.30 L1073.50,306.89 L1074.00,307.75 L1074.50,306.72 L1075.00,306.84 L1075.50,307.38 L1076.00,306.88 L1076.50,306.53 L1077.00,307.03 L1077.50,307.19 L1078.00,307.27 L1078.50,306.62 L1079.00,307.77 L1079.50,307.75 L1080.00,307.03 L1080.50,307.16 L1081.00,306.86 L1081.50,307.71 L1082.00,306.78 L1082.50,307.42 L1083.00,306.91 L1083.50,306.84 L1084.00,307.49 L1084.50,307.79 L1085.00,307.20 L1085.50,306.92 L1086.00,307.61 L1086.50,307.24 L1087.00,307.42 L1087.50,307.98 L1088.00,307.82 L1088.50,307.10 L1089.00,308.38 L1089.50,307.37 L1090.00,307.74 L1090.50,307.11 L1091.00,307.40 L1091.50,306.65 L1092.00,308.26 L1092.50,308.09 L1093.00,306.95 L1093.50,306.84 L1094.00,306.80 L1094.50,308.08 L1095.00,307.36 L1095.50,307.56 L1096.00,307.47 L1096.50,307.57 L1097.00,307.15 L1097.50,307.67 L1098.00,307.03 L1098.50,307.67 L1099.00,307.86 L1099.50,307.95 L1100.00,307.65 L1100.50,307.37 L1101.00,307.86 L1101.50,307.59 L1102.00,308.53 L1102.50,308.19 L1103.00,307.81 L1103.50,307.67 L1104.00,307.58 L1104.50,307.50 L1105.00,307.78 L1105.50,308.09 L1106.00,308.21 L1106.50,308.25 L1107.00,308.95 L1107.50,307.71 L1108.00,308.05 L1108.50,309.32 L1109.00,307.24 L1109.50,307.87 L1110.00,308.20 L1110.50,308.21 L1111.00,308.34 L1111.50,308.07 L1112.00,308.36 L1112.50,308.24 L1113.00,308.58 L1113.50,307.40 L1114.00,307.87 L1114.50,308.28 L1115.00,307.84 L1115.50,307.85 L1116.00,308.62 L1116.50,308.07 L1117.00,308.66 L1117.50,308.73 L1118.00,308.55 L1118.50,308.66 L1119.00,308.40 L1119.50,307.83 L1120.00,308.47 L1120.50,308.71 L1121.00,308.28 L1121.50,308.50 L1122.00,308.90 L1122.50,308.18 L1123.00,308.88 L1123.50,309.45 L1124.00,308.38 L1124.50,308.72 L1125.00,308.60 L1125.50,309.38 L1126.00,308.85 L1126.50,309.13 L1127.00,308.43 L1127.50,308.75 L1128.00,308.77 L1128.50,308.00 L1129.00,309.46 L1129.50,309.24 L1130.00,308.07 L1130.50,309.20 L1131.00,308.81 L1131.50,309.08 L1132.00,309.05 L1132.50,308.22 L1133.00,308.80 L1133.50,309.58 L1134.00,308.66 L1134.50,308.46 L1135.00,308.32 L1135.50,308.39 L1136.00,309.10 L1136.50,309.72 L1137.00,309.15 L1137.50,309.08 L1138.00,309.98 L1138.50,308.75 L1139.00,308.69 L1139.50,309.24 L1140.00,309.25 L1140.50,308.56 L1141.00,308.49 L1141.50,309.16 L1142.00,309.14 L1142.50,308.45 L1143.00,308.95 L1143.50,308.80 L1144.00,309.25 L1144.50,308.99 L1145.00,309.00 L1145.50,308.88 L1146.00,309.50 L1146.50,309.64 L1147.00,308.83 L1147.50,309.35 L1148.00,308.60 L1148.50,308.93 L1149.00,309.19 L1149.50,309.47 L1150.00,308.54 L1150.50,308.59 L1151.00,308.60 L1151.50,307.71 L1152.00,308.24 L1152.50,307.75 L1153.00,308.02 L1153.50,307.11 L1154.00,306.46 L1154.50,307.05 L1155.00,306.81 L1155.50,306.05 L1156.00,306.27 L1156.50,305.27 L1157.00,304.59 L1157.50,304.51 L1158.00,302.97 L1158.50,302.71 L1159.00,302.30 L1159.50,301.94 L1160.00,300.71 L1160.50,300.10 L1161.00,298.83 L1161.50,298.40 L1162.00,298.15 L1162.50,296.22 L1163.00,296.73 L1163.50,294.53 L1164.00,294.01 L1164.50,293.30 L1165.00,292.95 L1165.50,291.27 L1166.00,290.27 L1166.50,290.97 L1167.00,290.61 L1167.50,290.19 L1168.00,290.84 L1168.50,289.60 L1169.00,289.58 L1169.50,289.93 L1170.00,289.82 L1170.50,290.62 L1171.00,289.62 L1171.50,290.39 L1172.00,289.46 L1172.50,291.89 L1173.00,291.94 L1173.50,293.16 L1174.00,294.40 L1174.50,294.15 L1175.00,294.80 L1175.50,295.47 L1176.00,296.11 L1176.50,297.01 L1177.00,298.38 L1177.50,298.91 L1178.00,299.71 L1178.50,300.38 L1179.00,301.61 L1179.50,302.15 L1180.00,302.55 L1180.50,303.58 L1181.00,303.83 L1181.50,303.97 L1182.00,305.69 L1182.50,305.75 L1183.00,305.58 L1183.50,306.93 L1184.00,307.00 L1184.50,306.50 L1185.00,308.26 L1185.50,307.98 L1186.00,308.49 L1186.50,308.41 L1187.00,308.47 L1187.50,308.02 L1188.00,309.32 L1188.50,309.04 L1189.00,309.02 L1189.50,309.41 L1190.00,309.39 L1190.50,309.74 L1191.00,309.34 L1191.50,309.55 L1192.00,308.65 L1192.50,309.47 L1193.00,310.00 L1193.50,310.34 L1194.00,309.60 L1194.50,309.73 L1195.00,310.52 L1195.50,309.68 L1196.00,310.18 L1196.50,310.62 L1197.00,309.90 L1197.50,310.44 L1198.00,309.58 L1198.50,310.01 L1199.00,309.89 L1199.50,309.98 L1200.00,310.45 L1200.50,311.03 L1201.00,309.66 L1201.50,309.71 L1202.00,310.20 L1202.50,309.51 L1203.00,310.22 L1203.50,310.26 L1204.00,309.88 L1204.50,310.26 L1205.00,309.33 L1205.50,310.37 L1206.00,309.35 L1206.50,309.73 L1207.00,309.81 L1207.50,309.88 L1208.00,310.46 L1208.50,310.12 L1209.00,309.91 L1209.50,310.34 L1210.00,310.81 L1210.50,310.11 L1211.00,310.28 L1211.50,310.68 L1212.00,310.25 L1212.50,309.56 L1213.00,311.27 L1213.50,311.15 L1214.00,309.27 L1214.50,310.16 L1215.00,310.37 L1215.50,310.62 L1216.00,310.50 L1216.50,310.08 L1217.00,309.74 L1217.50,310.27 L1218.00,310.69 L1218.50,309.75 L1219.00,309.78 L1219.50,310.24 L1220.00,309.39 L1220.50,310.15 L1221.00,310.08 L1221.50,310.49 L1222.00,309.97 L1222.50,309.90 L1223.00,310.13 L1223.50,310.29 L1224.00,310.02 L1224.50,310.34 L1225.00,310.68 L1225.50,310.88 L1226.00,311.12 L1226.50,310.01 L1227.00,310.18 L1227.50,309.26 L1228.00,311.24 L1228.50,310.07 L1229.00,310.39 L1229.50,310.64 L1230.00,309.80 L1230.50,310.63 L1231.00,310.42 L1231.50,309.62 L1232.00,310.58 L1232.50,310.99 L1233.00,309.62 L1233.50,310.83 L1234.00,310.57 L1234.50,310.70 L1235.00,310.69 L1235.50,311.09 L1236.00,310.41 L1236.50,310.91 L1237.00,310.34 L1237.50,310.86 L1238.00,310.17 L1238.50,310.50 L1239.00,311.34 L1239.50,310.76 L1240.00,310.50 L1240.50,310.06 L1241.00,310.23" stroke="#231f20" stroke-width="1.9" fill="none" stroke-linejoin="round"/>
<path d="M1142.00,284.67 L1142.50,287.40 L1143.00,289.97 L1143.50,292.35 L1144.00,294.53 L1144.50,296.49 L1145.00,298.25 L1145.50,299.81 L1146.00,301.16 L1146.50,302.88 L1147.00,303.48 L1147.50,304.40 L1148.00,304.31 L1148.50,305.22 L1149.00,305.78 L1149.50,306.55 L1150.00,306.04 L1150.50,306.39 L1151.00,306.14 L1151.50,306.71 L1152.00,306.86 L1152.50,306.16 L1153.00,306.35 L1153.50,306.49 L1154.00,306.57 L1154.50,306.00 L1155.00,305.37 L1155.50,304.71 L1156.00,304.34 L1156.50,303.92 L1157.00,303.62 L1157.50,302.96 L1158.00,302.82 L1158.50,301.70 L1159.00,300.55 L1159.50,300.54 L1160.00,299.53 L1160.50,298.41 L1161.00,297.28 L1161.50,296.02 L1162.00,295.35 L1162.50,295.01 L1163.00,293.58 L1163.50,292.53 L1164.00,292.11 L1164.50,291.30 L1165.00,290.64 L1165.50,289.94 L1166.00,289.53 L1166.50,288.29 L1167.00,288.37 L1167.50,287.42 L1168.00,287.66 L1168.50,287.35 L1169.00,287.32 L1169.50,287.60 L1170.00,287.45 L1170.50,288.03 L1171.00,288.28 L1171.50,288.47 L1172.00,288.74 L1172.50,289.24 L1173.00,289.93 L1173.50,290.71 L1174.00,291.50 L1174.50,293.17 L1175.00,293.28 L1175.50,294.15 L1176.00,294.51 L1176.50,295.41 L1177.00,296.39 L1177.50,297.40 L1178.00,297.87 L1178.50,299.49 L1179.00,299.64 L1179.50,300.90 L1180.00,300.62 L1180.50,302.02 L1181.00,302.78 L1181.50,303.38 L1182.00,304.09 L1182.50,304.54 L1183.00,305.01 L1183.50,304.85 L1184.00,305.63 L1184.50,305.53 L1185.00,306.77 L1185.50,306.99 L1186.00,307.12 L1186.50,307.19 L1187.00,307.49 L1187.50,308.41 L1188.00,308.56 L1188.50,308.17 L1189.00,308.71 L1189.50,307.97 L1190.00,307.97 L1190.50,308.49 L1191.00,308.45 L1191.50,308.62 L1192.00,308.90 L1192.50,309.80 L1193.00,308.74 L1193.50,308.99 L1194.00,309.09 L1194.50,309.03 L1195.00,309.35 L1195.50,309.62 L1196.00,308.74 L1196.50,309.18 L1197.00,309.07 L1197.50,309.27 L1198.00,308.72 L1198.50,308.67 L1199.00,308.51 L1199.50,309.38 L1200.00,309.29 L1200.50,309.27 L1201.00,308.55 L1201.50,309.16 L1202.00,309.06 L1202.50,308.87 L1203.00,309.03 L1203.50,309.53 L1204.00,309.49 L1204.50,309.33 L1205.00,309.51 L1205.50,309.18 L1206.00,309.40 L1206.50,309.40 L1207.00,309.56 L1207.50,309.39 L1208.00,309.38 L1208.50,309.39 L1209.00,309.25 L1209.50,310.12 L1210.00,309.62 L1210.50,309.60 L1211.00,310.17 L1211.50,309.92 L1212.00,309.04 L1212.50,309.73 L1213.00,309.78 L1213.50,310.11 L1214.00,309.95 L1214.50,309.80 L1215.00,309.22 L1215.50,309.33 L1216.00,309.68 L1216.50,309.76 L1217.00,309.31 L1217.50,309.52 L1218.00,309.52 L1218.50,309.67 L1219.00,309.77 L1219.50,309.59 L1220.00,309.32 L1220.50,310.07 L1221.00,310.19 L1221.50,309.69 L1222.00,310.04 L1222.50,309.88 L1223.00,309.95 L1223.50,309.91 L1224.00,309.55 L1224.50,309.96 L1225.00,310.10 L1225.50,309.54 L1226.00,310.41 L1226.50,310.46 L1227.00,310.39 L1227.50,310.45 L1228.00,310.09 L1228.50,309.78 L1229.00,309.71 L1229.50,309.66 L1230.00,309.95 L1230.50,309.91 L1231.00,310.13 L1231.50,309.34 L1232.00,310.65 L1232.50,310.65 L1233.00,309.97 L1233.50,310.19 L1234.00,310.14 L1234.50,310.09 L1235.00,309.96 L1235.50,310.00 L1236.00,309.80 L1236.50,310.11 L1237.00,310.06 L1237.50,310.17 L1238.00,309.83 L1238.50,310.11 L1239.00,310.13 L1239.50,310.30 L1240.00,309.82 L1240.50,310.27 L1241.00,310.45 M944.00,273.76 L944.25,271.76 L944.50,269.52 L944.75,266.98 L945.00,264.12 L945.25,260.90 L945.50,257.26 L945.75,253.16 L946.00,248.56 L946.25,243.37 L946.50,237.56 L946.75,231.05 L947.00,223.76 L947.25,215.63 L947.50,206.59 L947.75,196.54 L948.00,185.40 L948.25,173.10 L948.50,159.54 L948.75,144.63 L949.00,128.30 L949.25,110.46 L949.50,91.02 L949.75,69.91 L949.98,48.90 M981.30,48.90 L981.50,56.75 L981.75,66.18 L982.00,75.29 L982.25,84.06 L982.50,92.51 L982.75,100.65 L983.00,108.48 L983.25,116.01 L983.50,123.24 L983.75,130.19 L984.00,136.87 L984.25,143.27 L984.50,149.41 L984.75,155.29 L985.00,160.93 L985.25,166.33 L985.50,171.49 L985.75,176.43 L986.00,181.15 L986.25,185.66 L986.50,189.97 L986.75,194.08 L987.00,198.00 L987.25,201.74 L987.50,205.31 L987.75,208.71 L988.00,211.95 L988.25,215.03 L988.50,217.97 L988.75,220.76 L989.00,223.42 L989.25,225.94 L989.50,228.35 L989.75,230.63 L990.00,232.80" stroke="#9a1a5a" stroke-width="1.2" fill="none" stroke-linejoin="round" stroke-opacity="0.85"/>


<path d="M1007.2,72.5 L1026.7,72.5" stroke="#2a2a2a" stroke-width="1.3"/>
<path d="M1007.2,95 L1026.7,95" stroke="#9a1a5a" stroke-width="1.1"/>
<text x="1033" y="78.8" font-size="17.7">NISTmAb (10 μg)</text>
<text x="1033" y="100.6" font-size="17.7">mAb size variant (10 μg)</text>
<text x="877" y="121" font-size="14.8">Monomer</text>
<text x="1013.4" y="171.7" font-size="17.5">F(ab’)<tspan font-size="10" dy="2.2">2</tspan><tspan dy="-2.2" dx="1.6"> + Fab/c</tspan></text>
<text x="1065.8" y="257.9" font-size="17.5">Fab/c</text>
<text x="1119.5" y="240" font-size="17.5">(Fc/2)<tspan font-size="10" dy="2.2">2</tspan></text>
<text x="1163" y="279.9" font-size="17.6">Fab + Fc</text>
<path d="M918.6,126.8 L935.02,154.11" stroke="#231f20" stroke-width="1.8" fill="none"/><path d="M941.2,164.4 L929.57,156.22 L939.43,150.30 Z" fill="#231f20"/><path d="M1061.9,181.6 L1049.39,196.32" stroke="#231f20" stroke-width="2" fill="none"/><path d="M1042,205 L1045.35,191.57 L1054.72,199.54 Z" fill="#231f20"/><path d="M1063.4,265.3 L1039.54,276.39" stroke="#231f20" stroke-width="2" fill="none"/><path d="M1029.2,281.2 L1037.85,270.40 L1043.04,281.55 Z" fill="#231f20"/>
</g>
</svg>
</body></html>
